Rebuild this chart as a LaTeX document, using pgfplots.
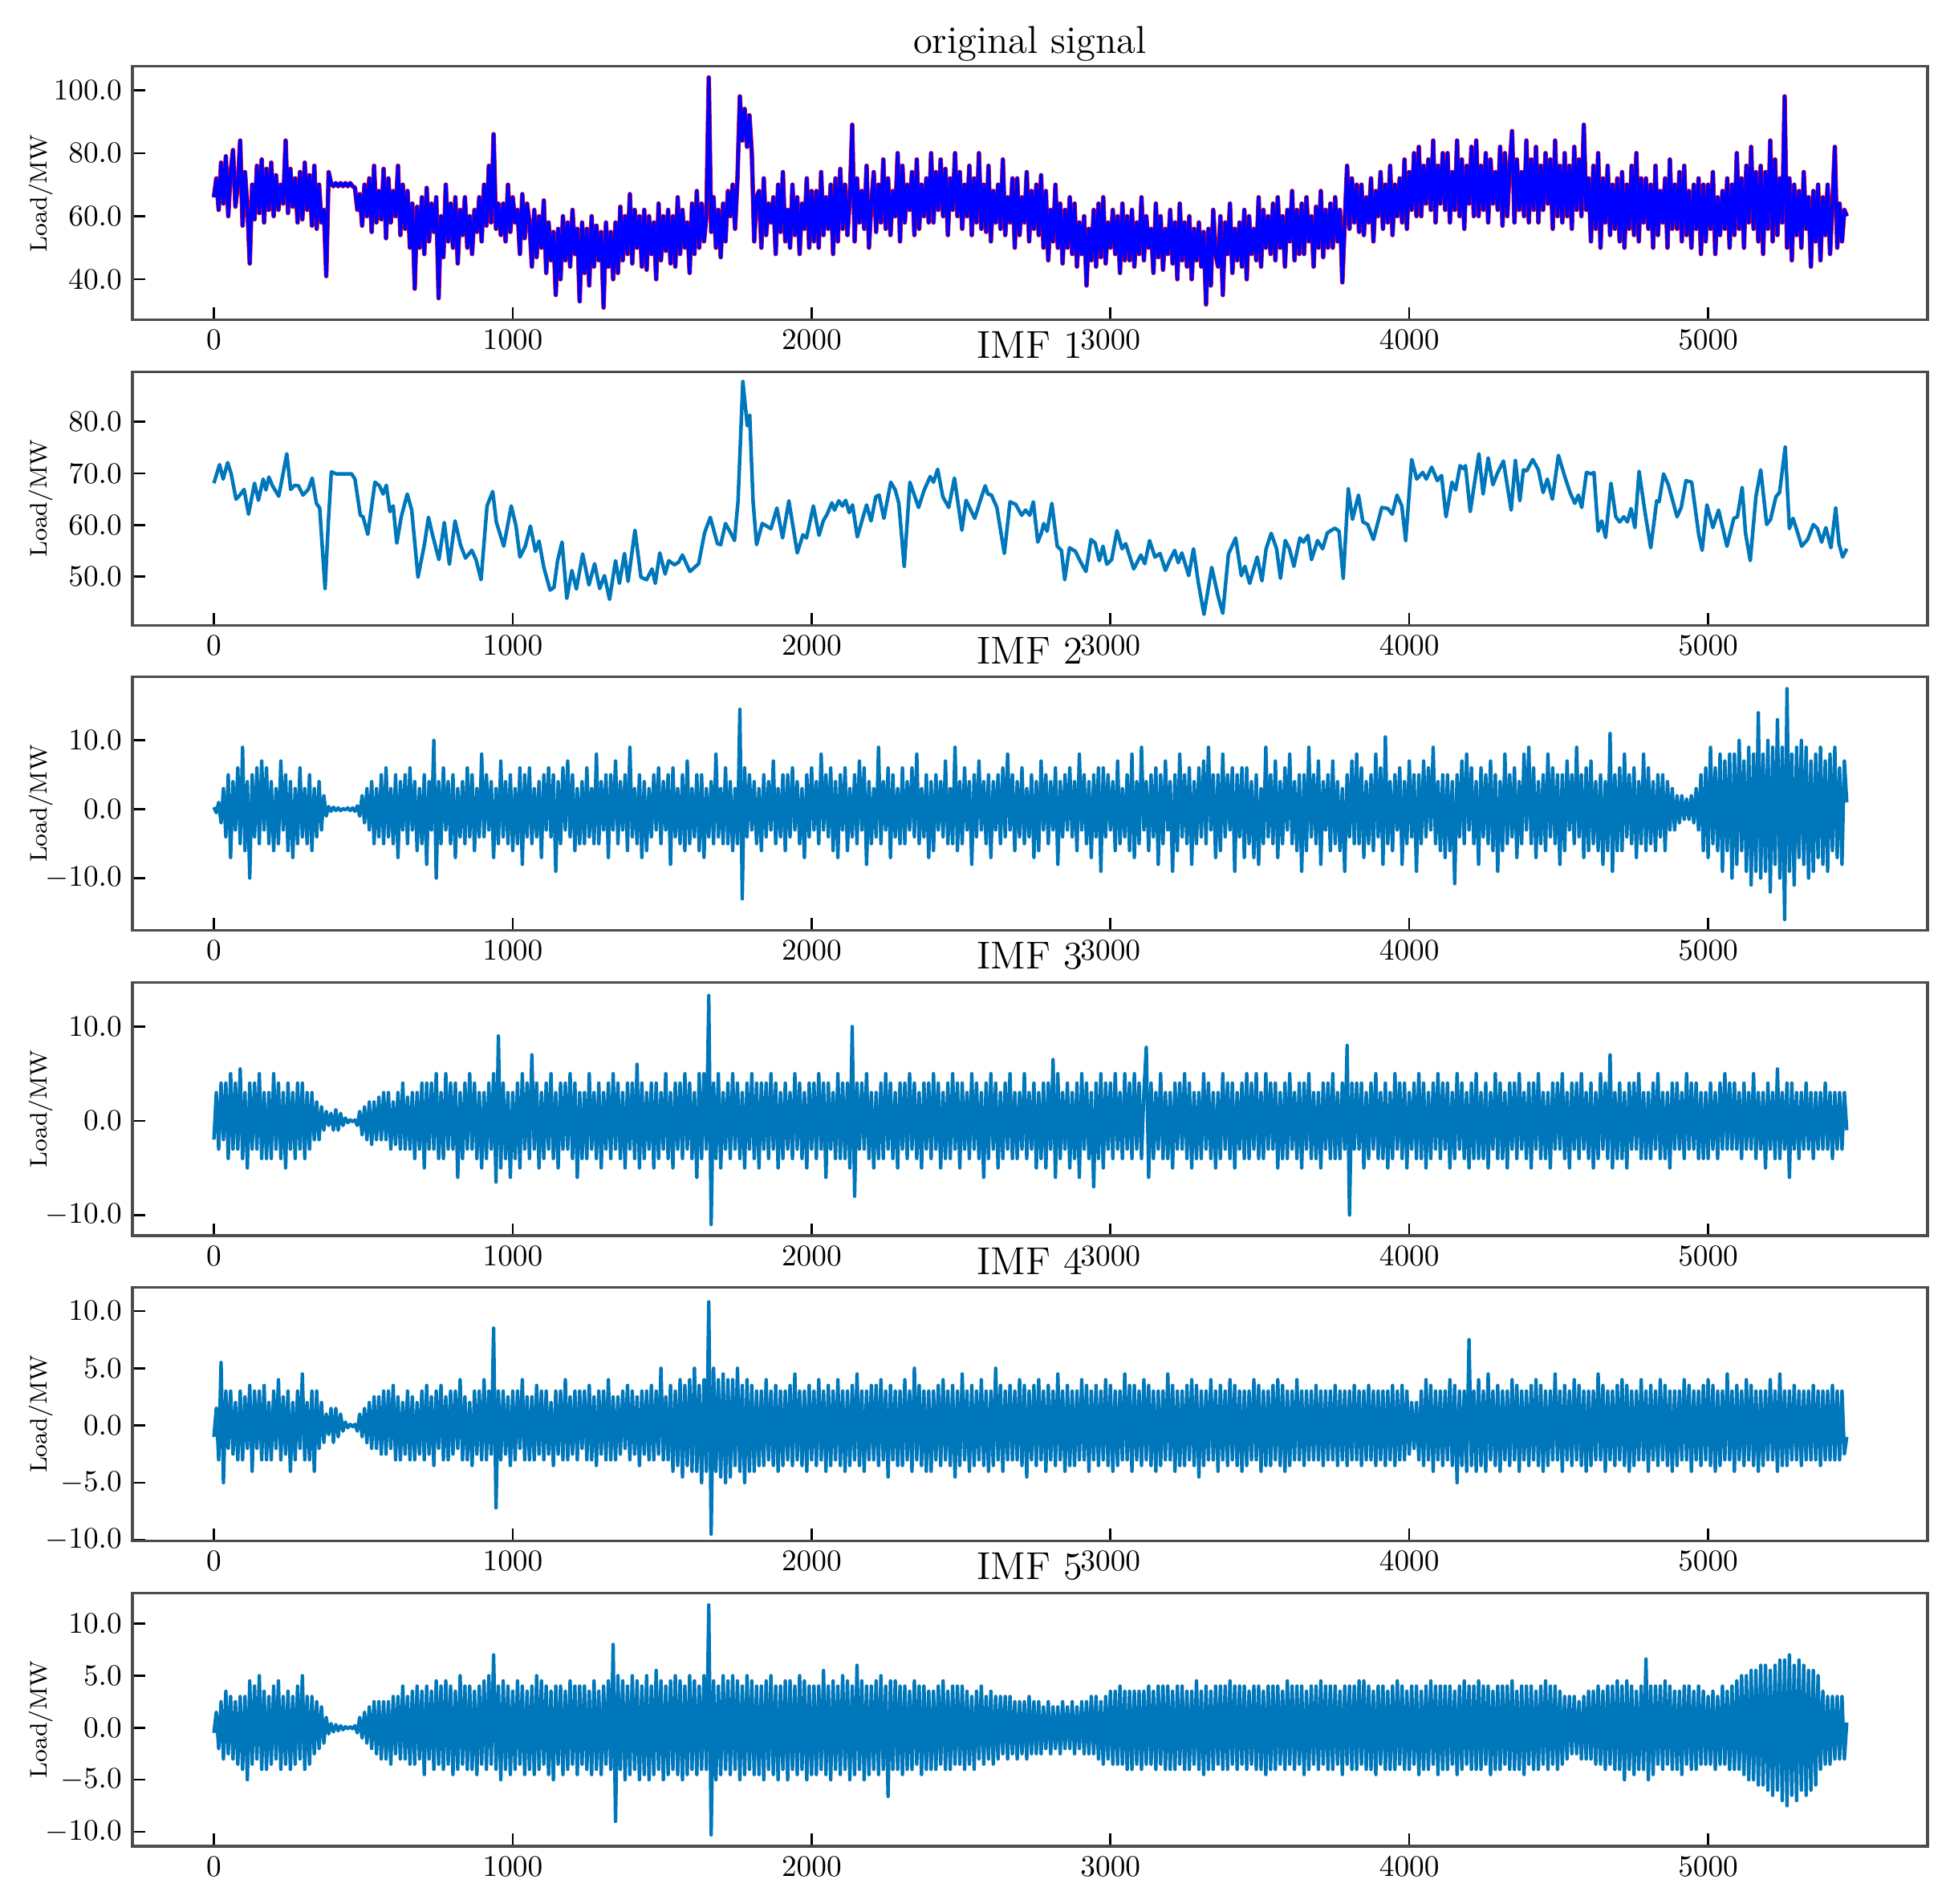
\documentclass[border=0pt]{standalone}
\usepackage{pgfplots}
\usepackage{pgfplotstable}
\pgfplotsset{compat=1.18}
\definecolor{imf}{RGB}{0,119,187}
\pgfplotsset{
  panel/.style={
    scale only axis, width=599.7pt, height=84.7pt, anchor=south west,
    xmin=-273, xmax=5734, xtick={0,1000,2000,3000,4000,5000},
    tick pos=left, tick align=inside,
    major tick length=4.2pt, minor tick num=0,
    axis line style={draw=black!70, line width=0.9pt},
    every tick/.style={black, line width=0.7pt},
    tick label style={font=\fontsize{10}{12}\selectfont},
    /pgf/number format/1000 sep={},
    yticklabel style={/pgf/number format/.cd, fixed, fixed zerofill, precision=1},
    ylabel={Load/MW},
    every axis y label/.style={at={(axis description cs:-0.0475,0.5)}, rotate=90, anchor=base, font=\fontsize{8}{10}\selectfont},
    every axis title/.style={at={(axis description cs:0.5,1)}, anchor=base, yshift=4.4pt, font=\fontsize{13}{15}\selectfont},
  },
  noise/.style={imf, line width=1.15pt, line join=round},
}
% one value every 8 samples
\pgfplotstableread[header=false,row sep=\\]{
66\\72\\62\\77\\64\\79\\60\\74\\81\\63\\70\\84\\
57\\74\\63\\45\\70\\59\\76\\61\\78\\58\\75\\62\\
77\\60\\73\\62\\70\\64\\84\\61\\75\\63\\72\\58\\
74\\59\\77\\62\\73\\57\\76\\56\\70\\58\\62\\41\\
74\\70.5\\69.5\\70.5\\69.5\\70.5\\69.5\\70.5\\69.5\\70.5\\69.5\\69\\
62\\67\\57\\70\\60\\72\\55\\76\\58\\68\\59\\75\\
53\\72\\58\\68\\60\\76\\54\\70\\56\\68\\50\\64\\
37\\63\\50\\66\\48\\69\\52\\64\\55\\66\\34\\60\\
47\\70\\52\\64\\50\\66\\45\\62\\54\\66\\50\\60\\
48\\62\\55\\66\\52\\70\\57\\76\\58\\86\\56\\64\\
54\\64\\52\\70\\55\\66\\58\\62\\48\\67\\53\\64\\
58\\44\\62\\47\\60\\50\\65\\42\\58\\46\\55\\35\\
56\\40\\60\\46\\58\\44\\62\\48\\56\\33\\58\\42\\
56\\38\\60\\44\\57\\46\\55\\31\\58\\44\\55\\40\\
58\\42\\63\\46\\60\\48\\67\\45\\62\\50\\60\\44\\
62\\43\\60\\48\\58\\40\\64\\46\\60\\49\\62\\45\\
60\\44\\66\\48\\62\\50\\58\\42\\64\\48\\68\\50\\
64\\52\\60\\104\\55\\66\\50\\62\\47\\64\\52\\68\\
60\\70\\56\\72\\98\\84\\94\\82\\92\\80\\52\\66\\
68\\50\\72\\54\\64\\58\\66\\48\\70\\55\\74\\52\\
62\\50\\70\\54\\66\\48\\64\\56\\72\\50\\68\\52\\
68\\50\\74\\54\\66\\56\\70\\48\\72\\52\\75\\56\\
70\\54\\66\\89\\52\\72\\58\\68\\56\\76\\50\\64\\
74\\55\\70\\58\\78\\56\\72\\54\\68\\60\\80\\52\\
76\\58\\70\\62\\74\\54\\78\\56\\70\\60\\72\\58\\
80\\58\\74\\62\\78\\60\\75\\54\\72\\62\\80\\60\\
74\\56\\70\\60\\76\\54\\72\\58\\80\\56\\70\\55\\
76\\52\\68\\58\\70\\56\\78\\54\\66\\58\\72\\50\\
72\\54\\66\\58\\74\\52\\68\\56\\70\\54\\73\\50\\
68\\46\\62\\52\\70\\50\\64\\45\\62\\50\\66\\48\\
64\\44\\58\\48\\60\\38\\56\\46\\62\\44\\64\\47\\
66\\45\\58\\50\\62\\48\\60\\42\\64\\46\\60\\46\\
62\\44\\58\\48\\66\\46\\60\\50\\56\\42\\64\\47\\
60\\43\\56\\48\\62\\45\\58\\40\\64\\46\\58\\44\\
60\\40\\56\\46\\58\\44\\55\\32\\56\\38\\62\\48\\
44\\60\\35\\58\\48\\64\\42\\56\\46\\58\\44\\62\\
40\\60\\48\\56\\46\\66\\44\\62\\50\\60\\48\\64\\
46\\66\\50\\60\\44\\62\\52\\68\\46\\62\\48\\64\\
48\\66\\52\\60\\44\\63\\50\\68\\47\\62\\50\\64\\
50\\66\\52\\62\\39\\58\\76\\56\\72\\58\\70\\55\\
70\\54\\66\\58\\72\\52\\68\\60\\74\\56\\70\\58\\
76\\54\\70\\60\\72\\58\\78\\56\\74\\62\\80\\60\\
82\\60\\76\\64\\78\\62\\84\\58\\76\\64\\80\\62\\
80\\58\\74\\62\\84\\60\\78\\56\\76\\64\\82\\60\\
84\\60\\76\\62\\80\\58\\78\\64\\74\\62\\82\\57\\
80\\60\\76\\87\\58\\78\\62\\74\\60\\84\\58\\78\\
62\\82\\58\\76\\62\\80\\64\\78\\56\\84\\60\\76\\
58\\80\\60\\76\\56\\82\\62\\78\\60\\89\\62\\72\\
52\\76\\56\\80\\50\\72\\58\\76\\54\\70\\56\\72\\
52\\74\\50\\70\\56\\76\\54\\80\\52\\72\\58\\72\\
56\\70\\50\\76\\54\\68\\58\\72\\50\\78\\56\\70\\
56\\74\\52\\76\\54\\68\\50\\70\\56\\72\\48\\70\\
52\\70\\56\\74\\48\\66\\54\\68\\56\\72\\50\\70\\
54\\80\\56\\72\\50\\76\\58\\82\\56\\74\\52\\76\\
48\\74\\56\\84\\52\\78\\54\\72\\58\\98\\50\\72\\
46\\70\\54\\68\\50\\74\\56\\66\\44\\68\\52\\70\\
46\\66\\54\\70\\48\\64\\82\\50\\64\\52\\62\\60\\
}\tOrig
\pgfplotstableread[header=false,row sep=\\]{
0.3\\-0.5\\1\\-2\\3\\-4\\5\\-7\\4\\-3\\6\\-5\\
9\\-6\\4\\-10\\5\\-4\\6\\-5\\7\\-3\\6\\-5\\
4\\-6\\3\\-5\\7\\-3\\5\\-6\\4\\-7\\3\\-5\\
6\\-4\\3\\-5\\5\\-6\\3\\-4\\4\\-3\\2\\-1\\
0.4\\-0.3\\0.3\\-0.2\\0.2\\-0.2\\0.1\\-0.1\\0.2\\-0.2\\0.2\\-0.3\\
0.5\\-1\\2\\-2\\3\\-3\\4\\-5\\3\\-4\\5\\-5\\
6\\-4\\3\\-5\\5\\-7\\4\\-3\\5\\-5\\6\\-3\\
4\\-6\\3\\-5\\5\\-8\\4\\-3\\10\\-10\\4\\-5\\
6\\-3\\4\\-5\\5\\-7\\3\\-4\\4\\-5\\6\\-4\\
5\\-6\\3\\-4\\8\\-4\\5\\-3\\4\\-7\\3\\-5\\
7\\-4\\4\\-5\\5\\-6\\3\\-5\\6\\-8\\5\\-4\\
6\\-5\\3\\-4\\4\\-7\\5\\-3\\6\\-4\\5\\-9\\
4\\-5\\6\\-3\\7\\-4\\5\\-6\\3\\-5\\4\\-5\\
6\\-4\\3\\-5\\8\\-5\\4\\-3\\5\\-7\\5\\-3\\
7\\-5\\4\\-3\\5\\-6\\9\\-4\\3\\-5\\5\\-7\\
4\\-6\\3\\-4\\5\\-3\\6\\-5\\4\\-3\\5\\-8\\
6\\-4\\3\\-5\\5\\-6\\7\\-5\\3\\-4\\5\\-6\\
5\\-7\\3\\-4\\4\\-5\\8\\-4\\3\\-5\\6\\-5\\
4\\-6\\3\\-5\\14.5\\-13\\6\\-4\\5\\-3\\4\\-5\\
3\\-6\\5\\-4\\4\\-3\\7\\-5\\3\\-4\\5\\-6\\
5\\-4\\6\\-3\\4\\-5\\3\\-7\\5\\-4\\6\\-3\\
4\\-5\\8\\-3\\5\\-4\\6\\-6\\4\\-7\\5\\-3\\
6\\-6\\3\\-4\\5\\-5\\7\\-3\\6\\-8\\4\\-5\\
3\\-4\\9\\-5\\4\\-3\\6\\-7\\5\\-4\\3\\-5\\
6\\-5\\4\\-3\\6\\-4\\8\\-5\\3\\-4\\5\\-7\\
4\\-6\\5\\-3\\4\\-4\\7\\-5\\3\\-5\\9\\-6\\
4\\-5\\6\\-3\\4\\-8\\5\\-4\\7\\-3\\4\\-5\\
5\\-7\\4\\-3\\5\\-5\\6\\-4\\8\\-3\\5\\-6\\
4\\-4\\6\\-5\\3\\-4\\5\\-7\\4\\-6\\7\\-3\\
5\\-5\\4\\-3\\6\\-8\\4\\-4\\5\\-3\\6\\-4\\
4\\-6\\8\\-3\\5\\-5\\4\\-7\\5\\-4\\6\\-9\\
6\\-4\\5\\-3\\4\\-6\\7\\-5\\3\\-4\\5\\-6\\
8\\-7\\4\\-5\\9\\-3\\4\\-6\\5\\-4\\6\\-8\\
5\\-5\\7\\-3\\4\\-9\\5\\-6\\8\\-4\\5\\-5\\
6\\-8\\4\\-5\\6\\-4\\7\\-5\\9\\-3\\5\\-7\\
5\\-6\\8\\-4\\5\\-3\\6\\-9\\5\\-4\\6\\-7\\
6\\-5\\4\\-7\\5\\-8\\3\\-5\\9\\-4\\5\\-5\\
7\\-7\\4\\-5\\6\\-3\\8\\-5\\4\\-6\\5\\-9\\
5\\-6\\9\\-4\\5\\-5\\7\\-8\\4\\-3\\5\\-6\\
7\\-5\\4\\-6\\3\\-9\\5\\-4\\7\\-5\\8\\-5\\
6\\-7\\4\\-5\\5\\-6\\8\\-4\\6\\-8\\10.5\\-5\\
4\\-6\\5\\-3\\6\\-8\\4\\-5\\7\\-4\\5\\-9\\
5\\-5\\7\\-4\\6\\-3\\9\\-5\\4\\-6\\5\\-7\\
5\\-6\\4\\-10.8\\5\\-4\\7\\-5\\8\\-3\\6\\-5\\
4\\-8\\6\\-4\\5\\-5\\7\\-6\\5\\-9\\4\\-6\\
8\\-5\\5\\-4\\6\\-7\\4\\-5\\8\\-3\\9\\-5\\
6\\-7\\4\\-5\\5\\-6\\8\\-4\\6\\-5\\5\\-8\\
5\\-6\\7\\-3\\5\\-5\\9\\-4\\5\\-7\\6\\-6\\
7\\-5\\4\\-6\\5\\-8\\4\\-6\\11\\-9\\5\\-6\\
6\\-6\\8\\-4\\5\\-5\\6\\-7\\4\\-5\\8\\-6\\
6\\-5\\4\\-6\\5\\-4\\5\\-6\\4\\-3\\3\\-3\\
2\\-2\\2\\-1.5\\1.5\\-1.5\\2\\-2\\3\\-3\\5\\-6\\
6\\-7\\9\\-5\\6\\-6\\8\\-9\\7\\-6\\8\\-10\\
8\\-8\\10\\-6\\7\\-9\\9\\-11\\8\\-9\\14\\-10\\
8\\-9\\10\\-12\\9\\-8\\13\\-10\\9\\-16\\17.5\\-9\\
8\\-11\\9\\-7\\10\\-8\\9\\-10\\7\\-9\\8\\-7\\
9\\-8\\7\\-9\\8\\-6\\9\\-7\\6\\-8\\7\\1\\
}\tImfTwo
\pgfplotstableread[header=false,row sep=\\]{
-2\\3\\-3\\4\\-2\\4\\-4\\5\\-3\\4\\-3\\5.5\\
-4\\3\\-5\\4\\-3\\4\\-3\\5\\-4\\3\\-4\\3\\
-4\\5\\-3\\4\\-4\\3\\-5\\4\\-3\\3\\-4\\4\\
-3\\4\\-4\\3\\-3\\3\\-2\\2\\-2\\1.5\\-1\\1\\
-0.5\\0.8\\-1\\1.2\\-1\\0.8\\-0.5\\0.3\\-0.2\\0.1\\-0.1\\0.1\\
-0.5\\1\\-1.5\\1.5\\-2\\2\\-2.5\\2\\-2\\2.5\\-2\\3\\
-2\\3\\-3\\2\\-2.5\\3\\-3\\4\\-3\\2.5\\-3\\3\\
-4\\3\\-3\\4\\-5\\4\\-3\\4\\-3\\5\\-4\\3\\
-4\\5\\-3\\4\\-3\\4\\-6\\3\\-4\\4\\-3\\5\\
-3\\4\\-4\\3\\-5\\3\\-4\\4\\-3\\5\\-6.5\\9\\
-5\\4\\-4\\3\\-6\\3\\-4\\4\\-5\\5\\-3\\4\\
-4\\7\\-3\\4\\-5\\3\\-4\\4\\-3\\5\\-4\\3\\
-5\\4\\-3\\4\\-3\\5\\-4\\4\\-6\\3\\-4\\3\\
-4\\5\\-3\\3\\-4\\4\\-5\\3\\-3\\4\\-4\\5\\
-3\\4\\-4\\3\\-5\\4\\-3\\4\\-4\\6\\-5\\4\\
-4\\3\\-3\\4\\-5\\4\\-4\\3\\-3\\5\\-4\\3\\
-5\\4\\-3\\4\\-4\\5\\-3\\4\\-4\\3\\-6\\5\\
-4\\5\\-3\\13.3\\-11\\4\\-4\\5\\-5\\3\\-3\\4\\
-4\\5\\-3\\4\\-4\\3\\-5\\4\\-3\\5\\-4\\4\\
-5\\4\\-3\\4\\-4\\5\\-3\\4\\-5\\3\\-4\\4\\
-3\\3\\-4\\5\\-3\\4\\-4\\3\\-5\\4\\-3\\4\\
-4\\5\\-3\\4\\-6\\4\\-3\\3\\-4\\5\\-4\\4\\
-4\\4\\-5\\10\\-8\\4\\-3\\4\\-3\\5\\-4\\3\\
-5\\3\\-4\\4\\-4\\5\\-3\\4\\-4\\3\\-5\\4\\
-3\\4\\-4\\5\\-3\\4\\-4\\3\\-5\\4\\-3\\4\\
-4\\5\\-3\\4\\-5\\3\\-4\\4\\-4\\5\\-3\\4\\
-5\\4\\-3\\3\\-4\\5\\-3\\4\\-4\\3\\-6\\4\\
-4\\5\\-3\\4\\-5\\3\\-4\\4\\-3\\5\\-4\\3\\
-4\\3\\-3\\5\\-4\\3\\-3\\4\\-5\\3\\-4\\4\\
-5\\4\\-3\\6.5\\-6\\5\\-4\\3\\-3\\4\\-5\\3\\
-4\\4\\-6\\5\\-3\\4\\-4\\3\\-7\\4\\-4\\5\\
-5\\4\\-3\\4\\-4\\5\\-3\\3\\-4\\5\\-3\\4\\
-4\\5\\-3\\4\\-4\\3\\7.8\\-6\\4\\-4\\3\\-3\\
5\\-4\\3\\-4\\3\\-5\\4\\-3\\4\\-3\\5\\-4\\
4\\-5\\3\\-4\\3\\-4\\5\\-3\\4\\-4\\3\\-5\\
3\\-4\\5\\-3\\4\\-4\\4\\-5\\3\\-3\\4\\-4\\
5\\-4\\4\\-3\\5\\-4\\3\\-4\\5\\-3\\4\\-3\\
4\\-5\\3\\-4\\4\\-4\\5\\-3\\3\\-4\\4\\-5\\
4\\-3\\5\\-4\\3\\-4\\3\\-5\\4\\-3\\4\\-4\\
5\\-4\\3\\-4\\4\\-3\\8\\-10\\4\\-3\\4\\-3\\
4\\-5\\3\\-4\\4\\-3\\5\\-4\\3\\-4\\4\\-5\\
3\\-4\\5\\-3\\4\\-4\\4\\-5\\3\\-3\\4\\-4\\
5\\-4\\4\\-5\\3\\-4\\4\\-3\\5\\-4\\4\\-3\\
4\\-5\\3\\-4\\5\\-3\\4\\-4\\3\\-5\\4\\-4\\
5\\-4\\3\\-4\\4\\-5\\3\\-3\\5\\-4\\4\\-4\\
3\\-5\\4\\-3\\4\\-4\\5\\-3\\3\\-4\\4\\-5\\
4\\-3\\5\\-4\\3\\-4\\3\\-5\\4\\-3\\4\\-3\\
5\\-4\\3\\-5\\4\\-3\\4\\-4\\5\\-3\\3\\-4\\
4\\-5\\3\\-4\\5\\-3\\4\\-4\\7\\-5\\3\\-4\\
4\\-4\\3\\-5\\4\\-3\\4\\-3\\5\\-4\\3\\-4\\
3\\-4\\4\\-3\\5\\-4\\3\\-4\\3\\-5\\4\\-3\\
4\\-3\\3\\-4\\5\\-3\\4\\-3\\4\\-4\\3\\-4\\
3\\-4\\4\\-3\\3\\-4\\4\\-3\\5\\-3\\4\\-3\\
4\\-3\\3\\-4\\4\\-3\\3\\-3\\5\\-4\\3\\-3\\
3\\-5\\4\\-3\\3\\-4\\5.5\\-4\\3\\-3\\4\\-6\\
4\\-3\\3\\-4\\3\\-3\\4\\-3\\3\\-4\\3\\-3\\
3\\-3\\4\\-3\\3\\-4\\3\\-3\\3\\-3\\3\\-1\\
}\tImfThree
\pgfplotstableread[header=false,row sep=\\]{
-1\\1.5\\-3\\5.5\\-5\\3\\-2\\3\\-2.5\\2\\-3\\3\\
-3\\2.5\\-2\\3.5\\-4\\3\\-2\\3\\-3\\3.5\\-3\\2\\
-3\\3\\-2\\4\\-3\\2.5\\-2.5\\3\\-4\\2\\-3\\3\\
-2\\4.5\\-3\\2\\-3\\3\\-4\\3\\-2\\2\\-1.5\\1\\
-0.8\\1.5\\-1.5\\1.5\\-1\\1\\-0.5\\0.3\\-0.2\\0.1\\-0.1\\0.1\\
-0.5\\1\\-1\\1.5\\-1.5\\2\\-2\\2.5\\-2\\2.5\\-2.5\\3\\
-2.5\\3\\-2\\3.5\\-3\\2.5\\-3\\2\\-2.5\\3\\-3\\2.5\\
-3\\2\\-2.5\\3\\-3\\3.5\\-2.5\\2.5\\-3.5\\3\\-2\\3.5\\
-3\\2.5\\-3\\3\\-2.5\\3\\-2\\4\\-3\\2.5\\-3\\2\\
-3.5\\3\\-2.5\\3\\-3\\4\\-3\\3\\-2.5\\8.5\\-7.2\\3\\
-3\\3\\-2.5\\2.5\\-3.5\\3\\-3\\3\\-2\\4\\-3\\2.5\\
-3\\2.5\\-3\\3.5\\-2.5\\3\\-3\\3\\-2.5\\2\\-3.5\\3\\
-2.5\\3\\-3\\4\\-3\\2.5\\-2.5\\3\\-3\\3\\-2\\3\\
-3\\3.5\\-3\\2.5\\-3.5\\3\\-2.5\\3\\-3\\4\\-3\\2.5\\
-3\\2.5\\-2.5\\3\\-2\\3.5\\-3\\3\\-2.5\\2.5\\-3.5\\3\\
-2.5\\3\\-3\\3.5\\-3\\3\\-2.5\\5\\-3\\2.5\\-3\\3.5\\
-4\\3\\-3.5\\4\\-4.5\\3.5\\-3.5\\4\\-4\\5\\-4\\3.5\\
-5\\4\\-4\\10.8\\-9.5\\5\\-4\\4\\-4.5\\4.5\\-5\\4\\
-4.5\\4\\-3.5\\5\\-4\\3.5\\-5\\4\\-4\\3.5\\-4\\3\\
-3.5\\3\\-3.5\\4\\-3\\3\\-3.5\\3.5\\-4\\3\\-3.5\\3\\
-3\\3.5\\-3.5\\4.5\\-3\\3\\-3.5\\3\\-4\\3.5\\-3\\3\\
-3.5\\4\\-3\\3\\-4\\3.5\\-3.5\\3\\-3\\4\\-3.5\\3\\
-4\\3\\-3.5\\3.5\\-3\\4.5\\-3.5\\3\\-4\\3\\-3\\3.5\\
-3\\3.5\\-3.5\\4\\-3\\3\\-4.5\\3.5\\-3\\3\\-3.5\\3\\
-3.5\\4\\-3\\3\\-4\\5\\-3\\3.5\\-3.5\\3\\-4\\3\\
-4\\3\\-3\\3.5\\-3.5\\4\\-3\\3\\-3.5\\3.5\\-4.5\\3\\
-3.5\\4.5\\-3\\3\\-4\\3.5\\-3.5\\3\\-3\\4\\-3.5\\3\\
-4\\3\\-3.5\\5\\-3\\3.5\\-4\\3\\-3\\3.5\\-3\\3\\
-3\\4\\-3.5\\3.5\\-4.5\\3\\-3\\3.5\\-3.5\\4\\-3\\3\\
-4\\3.5\\-3\\3\\-3.5\\4.5\\-3\\3\\-4\\3.5\\-3.5\\3\\
-3.5\\3\\-3\\4\\-3\\3.5\\-4\\3\\-3\\3.5\\-3.5\\3\\
-3\\4\\-3.5\\3.5\\-4\\3\\-3.5\\3\\-3\\4.5\\-3\\3.5\\
-4\\3.5\\-3\\3\\-3.5\\4\\-3\\3.5\\-3.5\\3\\-4\\3\\
-3.5\\3\\-3\\4.5\\-3\\3.5\\-4\\3\\-3.5\\3\\-3.5\\3.5\\
-3\\4\\-3.5\\3.5\\-4.5\\3\\-3.5\\3\\-3\\4\\-3\\3\\
-4\\3.5\\-3\\3\\-3.5\\4\\-3\\3.5\\-3.5\\3\\-4\\3\\
-3.5\\3\\-3\\4\\-3\\3.5\\-4\\3\\-3.5\\3\\-3.5\\3.5\\
-3\\4\\-3.5\\3.5\\-4\\3\\-3.5\\3\\-3\\4\\-3\\3\\
-3.5\\3\\-3\\3\\-3\\3.5\\-3\\3\\-3.5\\3\\-3\\3\\
-3\\3.5\\-3.5\\3\\-3\\3\\-3.5\\3\\-3\\3.5\\-3\\3\\
-3.5\\3\\-3\\3.5\\-3\\3\\-3.5\\3\\-3\\3\\-3.5\\3\\
-3\\3.5\\-3.5\\3\\-3\\3.5\\-3\\3\\-2.5\\2\\-2\\2\\
-3\\3\\-3.5\\4\\-3\\3.5\\-4\\3\\-3\\3\\-3.5\\3\\
-3\\4\\-3.5\\3.5\\-5\\3\\-3.5\\3\\-4\\7.5\\-3.5\\3\\
-4\\4\\-3.5\\3\\-4\\4.5\\-3\\3\\-3.5\\3.5\\-4\\3\\
-3\\3\\-3.5\\4\\-3\\3.5\\-4\\3\\-3\\3\\-3.5\\3.5\\
-3\\4\\-3.5\\3.5\\-4\\3\\-3.5\\3\\-3\\4.5\\-3\\3\\
-4\\3.5\\-3\\3\\-3.5\\4\\-3\\3.5\\-3.5\\3\\-4\\3\\
-3.5\\3\\-3\\4.5\\-3\\3.5\\-4\\3\\-3\\3\\-3.5\\3.5\\
-3\\4\\-3.5\\3.5\\-4\\3\\-3.5\\3\\-3\\4\\-3\\3\\
-4\\3.5\\-3\\3\\-3.5\\4\\-3\\3.5\\-3.5\\3\\-4\\3\\
-3.5\\3\\-3\\4\\-3\\3.5\\-4\\3\\-3\\3\\-3.5\\3.5\\
-3\\4\\-3.5\\3.5\\-4\\3\\-3.5\\3\\-3\\4.5\\-3\\3\\
-4\\3.5\\-3\\3\\-3.5\\4\\-3\\3.5\\-3.5\\3\\-4\\3\\
-3.5\\3\\-3\\4\\-3\\3\\-4\\4.5\\-3.5\\3\\-3.5\\3\\
-3\\3.5\\-3\\3\\-3.5\\3\\-3\\3\\-3\\3.5\\-3\\3\\
-3.5\\3\\-3\\3\\-3\\3.5\\-3\\3\\-3\\3\\-2.5\\-1\\
}\tImfFour
\pgfplotstableread[header=false,row sep=\\]{
-0.5\\1.5\\-2\\2.5\\-3\\3.5\\-2.5\\3\\-3\\2.5\\-3.5\\3\\
-4\\3\\-5\\4.5\\-3.5\\4\\-3\\5\\-4\\3.5\\-4\\3\\
-3.5\\4\\-3\\4.5\\-4\\3\\-3.5\\3.5\\-4\\3\\-3.5\\4\\
-3\\5\\-4\\3\\-3.5\\3\\-2.5\\2.5\\-2\\2\\-1.5\\1\\
-0.6\\0.4\\-0.4\\0.3\\-0.3\\0.2\\-0.2\\0.1\\-0.1\\0.1\\-0.1\\0.2\\
-0.5\\1\\-1\\1.5\\-1.5\\2\\-2\\2.5\\-2.5\\2.5\\-3\\2.5\\
-3\\2.5\\-3.5\\3\\-2.5\\3\\-3\\4\\-3\\3\\-3.5\\3.5\\
-3.5\\4\\-3\\3.5\\-4.5\\4\\-3\\3.5\\-4\\4.5\\-3.5\\4\\
-4\\4.5\\-3.5\\4\\-4.5\\3.5\\-4\\5\\-3.5\\4\\-4\\4\\
-4\\3.5\\-4.5\\4\\-3.5\\4.5\\-4\\5\\-3.5\\7\\-4\\4\\
-5\\4.5\\-4\\4\\-4.5\\3.5\\-4\\4.5\\-3.5\\4\\-4.5\\3.5\\
-4\\4\\-4.5\\5\\-4\\4.5\\-3.5\\4\\-4.5\\3.5\\-5\\4\\
-3.5\\4\\-4.5\\3.5\\-4\\4.5\\-3.5\\4\\-4.5\\4\\-3.5\\4\\
-4\\3.5\\-4.5\\4.5\\-4\\3.5\\-4.5\\4\\-3.5\\4.5\\-4\\8\\
-9\\5\\-4\\4.5\\-5\\4\\-4.5\\5\\-4\\4.5\\-5\\4\\
-4.5\\5\\-5\\4\\-4.5\\5.5\\-4\\4.5\\-5\\4\\-4.5\\4.5\\
-4\\5\\-4.5\\4.5\\-5\\4\\-4.5\\5\\-4\\4.5\\-4.5\\4\\
-4\\5\\-4\\11.8\\-10.3\\4.5\\-5\\4\\-4.5\\5\\-4\\4.5\\
-4.5\\5\\-4\\4.5\\-5\\4\\-4.5\\5\\-4\\4.5\\-4.5\\4\\
-4.5\\4\\-5\\4.5\\-4\\5\\-4.5\\4\\-5\\4\\-4\\4.5\\
-5\\4.5\\-4\\4\\-4.5\\5\\-4\\4.5\\-5\\4\\-4.5\\4\\
-4.5\\4\\-4\\5.5\\-4.5\\4\\-5\\4.5\\-4\\4\\-4.5\\5\\
-4\\4.5\\-5\\4\\-4.5\\6\\-4\\4.5\\-5\\4\\-4.5\\4\\
-4\\4.5\\-4.5\\5\\-4\\4\\-6.6\\4.5\\-4\\4.5\\-4\\4\\
-4.5\\4\\-4\\3.5\\-4\\4.5\\-3.5\\4\\-4.5\\4\\-4\\3.5\\
-4\\3.5\\-4\\4\\-3.5\\4.5\\-4\\3.5\\-4\\4\\-3.5\\4\\
-3.5\\4\\-4\\3.5\\-3.5\\3\\-4\\3.5\\-3\\4\\-3.5\\3\\
-3\\3.5\\-3.5\\3\\-3\\3\\-2.5\\3\\-3\\3\\-2.5\\2.5\\
-3\\2.5\\-2.5\\2.5\\-3\\3\\-2.5\\2.5\\-2.5\\2.5\\-2.5\\2\\
-2\\2.5\\-2.5\\2\\-2\\2\\-2.5\\2.5\\-2\\2\\-2\\2.5\\
-2.5\\2\\-2\\2.5\\-2.5\\2.5\\-2.5\\3\\-2.5\\3\\-3\\2.5\\
-3.5\\3\\-3\\3.5\\-3.5\\3.5\\-3.5\\4\\-3.5\\3.5\\-4\\3.5\\
-4\\3.5\\-3.5\\3.5\\-4\\3.5\\-3.5\\4\\-3.5\\3.5\\-4\\4\\
-3.5\\4\\-4\\4\\-4\\3.5\\-4\\4\\-3.5\\4\\-4\\3.5\\
-4\\3.5\\-3.5\\4.5\\-4\\3.5\\-4.5\\4\\-4\\3.5\\-4\\4\\
-3.5\\4\\-4\\4\\-4\\4.5\\-3.5\\4\\-4\\4\\-3.5\\4\\
-4\\3.5\\-3.5\\4\\-4\\4\\-4\\3.5\\-4.5\\4\\-4\\4\\
-4\\4\\-3.5\\3.5\\-4\\4.5\\-3.5\\4\\-4\\4\\-3.5\\4\\
-4.5\\3.5\\-4\\4\\-3.5\\4\\-4\\4.5\\-3.5\\4\\-4\\4\\
-4\\4\\-3.5\\3.5\\-4.5\\4\\-3.5\\4\\-4\\4\\-4\\4.5\\
-3.5\\4.5\\-4\\4\\-4\\3.5\\-4.5\\4\\-3.5\\4\\-4\\3.5\\
-4\\4\\-4\\4.5\\-3.5\\4\\-4\\3.5\\-4\\4\\-3.5\\4\\
-4.5\\3.5\\-4\\4\\-4\\4.5\\-3.5\\4\\-4.5\\4\\-4\\4\\
-4\\4\\-3.5\\3.5\\-4.5\\4\\-4\\4.5\\-3.5\\4\\-4\\4\\
-4\\4.5\\-4\\4\\-3.5\\4\\-4.5\\3.5\\-4\\4\\-4\\4\\
-3.5\\4\\-4\\4.5\\-4\\3.5\\-4\\4\\-4.5\\4\\-3.5\\4\\
-4\\3.5\\-4\\4\\-3.5\\4.5\\-4\\4\\-3.5\\4\\-4\\3.5\\
-3.5\\3\\-3\\3\\-2.5\\3\\-2.5\\2.5\\-3\\3\\-3\\3.5\\
-3\\3.5\\-3.5\\4\\-3.5\\3.5\\-4\\4\\-3.5\\4\\-4\\4.5\\
-4\\4\\-5\\4.5\\-4\\4\\-4.5\\3.5\\-4\\4\\-4\\6.6\\
-5\\4\\-4.5\\4\\-3.5\\4\\-4\\4.5\\-3.5\\4\\-4\\3.5\\
-4\\3.5\\-4.5\\4\\-3.5\\4\\-4\\3.5\\-4\\4\\-3.5\\3.5\\
-3.5\\3\\-3.5\\3.5\\-4\\3\\-3.5\\4\\-3.5\\3.5\\-4\\4\\
-4\\4.5\\-4\\5\\-4.5\\5\\-5\\5.5\\-5\\5.5\\-5.5\\6\\
-5.5\\6\\-6\\5.5\\-6.5\\6\\-6\\6.5\\-7\\6.5\\-7.5\\7\\
-6.5\\6\\-7\\6.5\\-6\\6\\-6.5\\5.5\\-6\\5.5\\-5.5\\5\\
-4\\3.5\\-3.5\\3\\-3.5\\3\\-3\\3\\-3\\3\\-3\\0.5\\
}\tImfFive
\begin{document}
\begin{tikzpicture}
\useasboundingbox (0,0) rectangle (650.1pt,635.9pt);
% original signal
\begin{axis}[panel, at={(44.2pt,529pt)}, ymin=27.1, ymax=107.5, ytick={40,60,80,100}, title={original signal}]
\addplot[red, line width=1.5pt, line join=round] table[x expr=\coordindex*8, y index=0] {\tOrig};
\addplot[blue, line width=1.15pt, line join=round] table[x expr=\coordindex*8, y index=0] {\tOrig};
\end{axis}
% IMF 1
\begin{axis}[panel, at={(44.2pt,427pt)}, ymin=40.6, ymax=89.7, ytick={50,60,70,80}, title={IMF 1}]
\addplot[imf, line width=1.2pt, line join=round] coordinates {
(0,68.1)(19,71.7)(31,68.9)(46,72.1)(58,69.9)(74,65.0)(87,65.8)(101,66.9)(116,62.1)(136,68.1)(149,64.8)(165,68.9)(174,66.8)(184,69.3)(196,67.6)(217,65.6)(228,68.9)(244,73.8)(257,66.9)(271,67.7)(283,67.6)(298,65.8)(316,66.9)(329,69.1)(343,64.2)(354,63.3)(372,47.7)(383,60.6)(393,70.3)(410,69.9)(461,69.9)(472,68.9)(490,61.9)(499,61.6)(515,58.2)(539,68.3)(554,67.6)(566,66.0)(577,67.7)(589,62.6)(600,63.7)(612,56.5)(627,61.6)(647,66.0)(662,62.9)(683,49.9)(705,56.4)(718,61.5)(732,58.0)(753,53.3)(771,60.5)(788,52.4)(807,60.8)(825,56.2)(842,53.6)(863,55.1)(877,53.3)(894,49.4)(914,63.7)(933,66.5)(945,60.6)(970,55.9)(995,63.7)(1011,59.8)(1024,53.8)(1042,55.9)(1059,59.8)(1076,54.9)(1088,56.9)(1104,51.8)(1125,47.4)(1138,47.9)(1150,53.1)(1165,56.7)(1181,45.8)(1198,51.2)(1213,47.6)(1234,54.4)(1255,48.4)(1274,52.5)(1291,47.7)(1307,50.2)(1324,45.6)(1344,53.1)(1357,48.7)(1374,54.5)(1386,49.1)(1409,59.0)(1429,49.9)(1448,49.4)(1466,51.5)(1477,48.7)(1492,54.6)(1510,50.5)(1522,53.1)(1541,52.3)(1555,52.8)(1568,54.2)(1593,51.0)(1622,52.5)(1642,58.5)(1661,61.5)(1685,56.4)(1696,56.2)(1712,60.3)(1729,58.5)(1742,57.0)(1754,64.7)(1770,87.8)(1785,79.2)(1793,81.3)(1804,64.7)(1816,56.2)(1835,60.3)(1864,59.3)(1884,63.3)(1903,57.5)(1924,64.7)(1952,54.6)(1971,58.1)(1983,57.5)(2006,63.7)(2025,58.0)(2039,60.8)(2052,62.1)(2068,64.3)(2077,62.9)(2091,64.7)(2103,63.7)(2114,64.8)(2126,62.4)(2137,63.9)(2153,57.7)(2184,63.9)(2199,60.8)(2215,65.5)(2226,65.8)(2242,61.3)(2265,68.3)(2280,66.8)(2292,64.2)(2310,52.0)(2329,68.3)(2358,63.4)(2377,66.8)(2397,69.4)(2408,68.3)(2422,70.8)(2439,65.5)(2459,63.4)(2478,69.1)(2503,59.0)(2517,64.8)(2546,61.3)(2567,65.2)(2581,67.6)(2590,66.0)(2602,65.8)(2620,63.4)(2645,54.5)(2664,64.5)(2683,64.0)(2703,61.9)(2716,62.9)(2730,61.9)(2742,64.5)
(2757,56.7)(2769,58.5)(2777,60.3)(2788,58.8)(2804,64.2)(2822,55.9)(2836,55.1)(2847,49.4)(2863,55.6)(2883,54.9)(2898,53.1)(2918,51.0)(2935,57.2)(2949,56.5)(2963,53.1)(2975,55.9)(2988,52.4)(3004,53.3)(3022,58.9)(3039,55.4)(3051,56.4)(3078,51.5)(3102,54.2)(3115,52.5)(3131,57.0)(3149,53.8)(3166,54.5)(3184,51.2)(3198,53.1)(3215,55.1)(3227,52.7)(3239,54.6)(3262,50.2)(3278,55.4)(3294,48.9)(3313,42.7)(3339,51.8)(3360,46.3)(3376,42.9)(3395,54.4)(3419,57.5)(3438,50.2)(3450,52.0)(3466,48.7)(3491,53.8)(3507,49.2)(3521,55.4)(3538,58.4)(3556,55.4)(3569,49.7)(3585,57.0)(3599,55.4)(3614,52.0)(3634,57.5)(3646,56.7)(3661,58.0)(3673,53.3)(3693,57.0)(3710,55.4)(3726,58.5)(3751,59.4)(3765,58.8)(3779,49.7)(3796,67.0)(3810,61.1)(3830,65.8)(3845,60.6)(3861,60.1)(3880,57.2)(3908,63.4)(3928,63.2)(3943,62.1)(3959,65.8)(3975,63.7)(3988,57.0)(4008,72.7)(4025,68.9)(4045,70.2)(4057,68.9)(4075,71.2)(4094,68.6)(4108,69.6)(4123,61.6)(4143,68.3)(4155,66.8)(4170,71.5)(4182,70.9)(4188,71.5)(4204,62.6)(4233,73.8)(4247,66.0)(4264,73.0)(4280,67.8)(4296,70.2)(4315,72.4)(4341,62.9)(4355,72.5)(4370,64.7)(4382,70.7)(4393,70.5)(4413,72.7)(4432,70.7)(4448,66.3)(4462,68.9)(4479,65.0)(4499,73.5)(4523,68.9)(4538,66.3)(4554,64.2)(4566,65.8)(4577,63.4)(4593,70.2)(4609,69.9)(4618,70.2)(4632,58.8)(4644,60.8)(4657,57.6)(4675,68.1)(4691,61.6)(4704,60.6)(4718,61.6)(4730,60.6)(4742,63.2)(4755,59.5)(4769,70.4)(4789,62.4)(4808,55.6)(4828,64.7)(4836,64.5)(4851,69.9)(4867,67.8)(4896,61.6)(4910,63.4)(4926,68.6)(4945,68.3)(4969,58.0)(4980,55.1)(4996,63.9)(5016,59.5)(5035,62.9)(5063,55.9)(5086,61.3)(5098,61.6)(5114,67.3)(5125,58.5)(5141,53.1)(5160,65.5)(5176,70.7)(5196,60.1)(5209,61.1)(5227,65.5)(5239,66.3)(5258,75.1)(5272,59.3)(5284,61.3)(5297,59.0)(5313,55.9)(5333,57.2)(5352,60.1)(5366,59.3)(5380,56.7)(5394,59.5)(5411,55.6)(5427,63.3)(5438,56.4)(5450,53.8)(5464,55.4)
};
\end{axis}
% IMF 2
\begin{axis}[panel, at={(44.2pt,325pt)}, ymin=-17.6, ymax=19.2, ytick={-10,0,10}, title={IMF 2}]
\addplot[noise] table[x expr=\coordindex*8, y index=0] {\tImfTwo};
\end{axis}
% IMF 3
\begin{axis}[panel, at={(44.2pt,223pt)}, ymin=-12.2, ymax=14.7, ytick={-10,0,10}, title={IMF 3}]
\addplot[noise] table[x expr=\coordindex*8, y index=0] {\tImfThree};
\end{axis}
% IMF 4
\begin{axis}[panel, at={(44.2pt,121pt)}, ymin=-10.1, ymax=12.05, ytick={-10,-5,0,5,10}, title={IMF 4}]
\addplot[noise] table[x expr=\coordindex*8, y index=0] {\tImfFour};
\end{axis}
% IMF 5
\begin{axis}[panel, at={(44.2pt,19pt)}, ymin=-11.4, ymax=12.96, ytick={-10,-5,0,5,10}, title={IMF 5}]
\addplot[noise] table[x expr=\coordindex*8, y index=0] {\tImfFive};
\end{axis}
\end{tikzpicture}
\end{document}
